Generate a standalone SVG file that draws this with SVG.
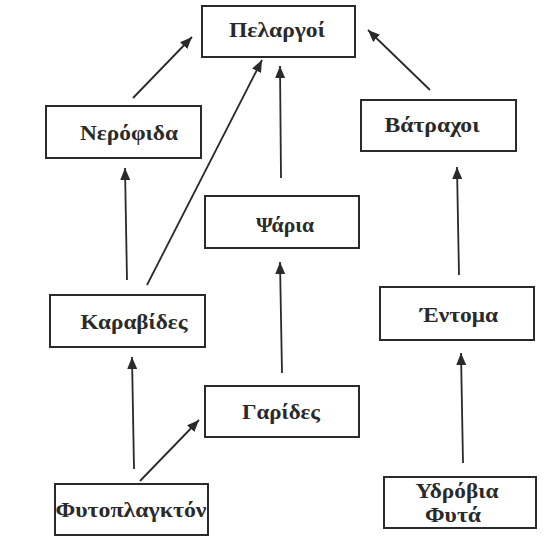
<svg xmlns="http://www.w3.org/2000/svg" width="548" height="548" viewBox="0 0 548 548">
<defs>
<style>
.box{fill:#fff;stroke:#2a2a2a;stroke-width:2}
.lbl{font-family:"Liberation Serif","Times New Roman",serif;font-weight:bold;font-size:20px;fill:#2a2a2a;text-anchor:middle}
.arr{stroke:#2a2a2a;stroke-width:1.8;fill:none;marker-end:url(#ah)}
</style>
<marker id="ah" markerUnits="userSpaceOnUse" markerWidth="13" markerHeight="10" refX="12" refY="5" orient="auto">
<path d="M0,0 L12,5 L0,10 Z" fill="#2a2a2a"/>
</marker>
</defs>
<rect width="548" height="548" fill="#fff"/>
<g id="connectors">
<line class="arr" x1="133" y1="98" x2="192" y2="37"/>
<line class="arr" x1="147" y1="285" x2="262" y2="60"/>
<line class="arr" x1="281" y1="178" x2="280" y2="66"/>
<line class="arr" x1="430" y1="90" x2="368" y2="30"/>
<line class="arr" x1="127" y1="280" x2="125" y2="168"/>
<line class="arr" x1="282" y1="373" x2="280" y2="262"/>
<line class="arr" x1="459" y1="275" x2="457" y2="167"/>
<line class="arr" x1="134" y1="469" x2="132" y2="357"/>
<line class="arr" x1="140" y1="481" x2="199" y2="420"/>
<line class="arr" x1="463" y1="463" x2="461" y2="353"/>
</g>
<g id="pelargoi"><rect class="box" x="202" y="6" width="153" height="51"/><text class="lbl" x="277" y="37" textLength="96" lengthAdjust="spacingAndGlyphs">Πελαργοί</text></g>
<g id="nerofida"><rect class="box" x="46" y="106" width="155" height="52"/><text class="lbl" x="129" y="140" textLength="98" lengthAdjust="spacingAndGlyphs">Νερόφιδα</text></g>
<g id="vatraxoi"><rect class="box" x="361" y="100" width="155" height="51"/><text class="lbl" x="432" y="132" textLength="95" lengthAdjust="spacingAndGlyphs">Βάτραχοι</text></g>
<g id="psaria"><rect class="box" x="205" y="196" width="154" height="52"/><text class="lbl" x="285" y="232" textLength="58" lengthAdjust="spacingAndGlyphs">Ψάρια</text></g>
<g id="karavides"><rect class="box" x="50" y="295" width="155" height="52"/><text class="lbl" x="134" y="329" textLength="107" lengthAdjust="spacingAndGlyphs">Καραβίδες</text></g>
<g id="entoma"><rect class="box" x="380" y="287" width="154" height="53"/><text class="lbl" x="459" y="322" textLength="78" lengthAdjust="spacingAndGlyphs">Έντομα</text></g>
<g id="garides"><rect class="box" x="205" y="386" width="154" height="51"/><text class="lbl" x="281" y="419" textLength="78" lengthAdjust="spacingAndGlyphs">Γαρίδες</text></g>
<g id="fytoplagkton"><rect class="box" x="55" y="484" width="153" height="51"/><text class="lbl" x="131" y="517" textLength="151" lengthAdjust="spacingAndGlyphs">Φυτοπλαγκτόν</text></g>
<g id="ydrovia"><rect class="box" x="384" y="477" width="152" height="51"/><text class="lbl" x="457" y="498" textLength="83" lengthAdjust="spacingAndGlyphs">Υδρόβια</text><text class="lbl" x="453" y="522" textLength="56" lengthAdjust="spacingAndGlyphs">Φυτά</text></g>
</svg>
